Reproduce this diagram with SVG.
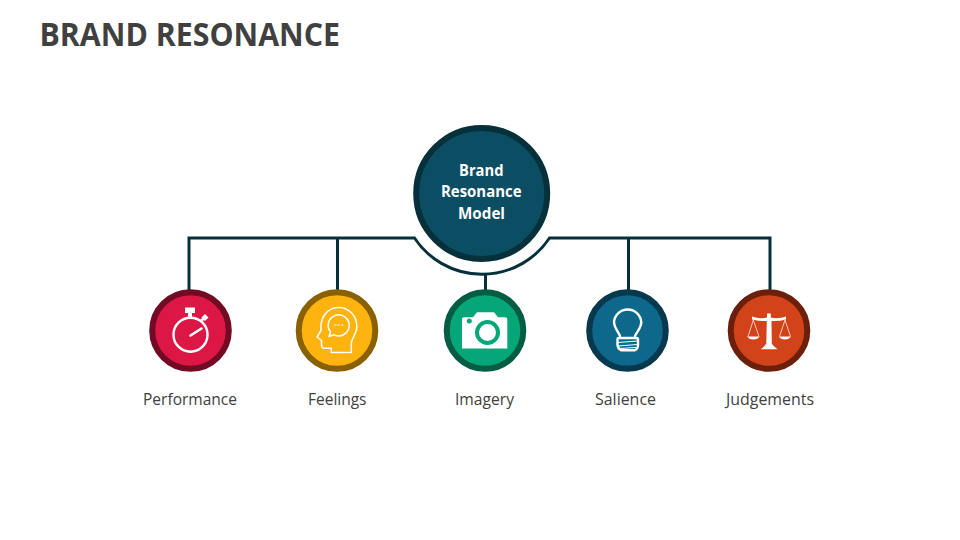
<svg xmlns="http://www.w3.org/2000/svg" width="960" height="540" viewBox="0 0 960 540">
<style>
text{font-family:"Open Sans","Noto Sans","Liberation Sans",sans-serif}
.t{font-size:32px;font-weight:700;fill:#404040}
.l{font-size:16px;fill:#404040}
.m{font-size:16px;font-weight:700;fill:#fff}
.c{fill:none;stroke:#06303a;stroke-width:3}
.w{fill:none;stroke:#fff;stroke-width:2.400;stroke-linecap:round;stroke-linejoin:round}
.thin{fill:none;stroke:#fff;stroke-width:1.500;stroke-linejoin:round}
.f{fill:#fff}
</style>
<rect width="960" height="540" fill="#fff"/>
<text class="t" x="39.500" y="45.500" textLength="300.500" lengthAdjust="spacingAndGlyphs">BRAND RESONANCE</text>
<g id="connectors" class="c">
<path d="M189 291V238H414.500A81 81 0 0 0 549.500 238H770V291"/>
<path d="M337.500 238V291"/>
<path d="M485.500 274V291"/>
<path d="M628.500 238V291"/>
</g>
<g id="brand-resonance-model">
<circle cx="481.700" cy="193.500" r="65.500" fill="#0b4d63" stroke="#06303a" stroke-width="6"/>
<text class="m" x="459" y="175.500" textLength="44.500" lengthAdjust="spacingAndGlyphs">Brand</text>
<text class="m" x="441" y="197" textLength="80.500" lengthAdjust="spacingAndGlyphs">Resonance</text>
<text class="m" x="458" y="218.500" textLength="47" lengthAdjust="spacingAndGlyphs">Model</text>
</g>
<g id="performance">
<circle cx="190.500" cy="330.500" r="38.300" fill="#dc1645" stroke="#720a24" stroke-width="6"/>
<circle cx="190.500" cy="334.700" r="17" class="w"/>
<rect x="185" y="307.500" width="10" height="5.500" class="f"/>
<rect x="188" y="312" width="4" height="5" class="f"/>
<path d="M201 321l3-3" stroke="#fff" stroke-width="2.500"/>
<path d="M201.500 317.500l3.500-3.500 3.500 3.500-3.500 3.500z" class="f"/>
<path d="M190.500 335.500l11-7" stroke="#fff" stroke-width="2.600" stroke-linecap="round"/>
<text class="l" x="143" y="404.500" textLength="94" lengthAdjust="spacingAndGlyphs">Performance</text>
</g>
<g id="feelings">
<circle cx="337" cy="330.500" r="38.300" fill="#ffb30f" stroke="#8a6100" stroke-width="6"/>
<path class="thin" d="M331.300 352.500V348.300H324.500Q321.500 348.300 321.500 345V340.500L317 337L321 330.500V325C322 314 330 307.500 338.500 307.500C349 307.500 356.800 316 356.800 326.500C356.800 334 351.300 338 351.300 344V352.500Z"/>
<path class="thin" d="M329 336.500L330.500 332A10.500 10.500 0 1 1 334 334.800Z"/>
<path d="M334 325h2.500M337.500 325h2.500M341 325h2.500" stroke="#fff" stroke-width="1"/>
<text class="l" x="308" y="404.500" textLength="58.500" lengthAdjust="spacingAndGlyphs">Feelings</text>
</g>
<g id="imagery">
<circle cx="485" cy="330.500" r="38.300" fill="#05a678" stroke="#045c42" stroke-width="6"/>
<path class="f" d="M462 319.500Q462 317.300 464 317.300H473L477 312.300H494L498 317.300H505Q507.300 317.300 507.300 319.500V348.500H462Z"/>
<circle cx="487.500" cy="332.500" r="10.500" fill="#fff" stroke="#05a678" stroke-width="4"/>
<circle cx="469.300" cy="321" r="2.500" fill="#05a678"/>
<text class="l" x="455" y="404.500" textLength="59" lengthAdjust="spacingAndGlyphs">Imagery</text>
</g>
<g id="salience">
<circle cx="627.500" cy="330.500" r="38.300" fill="#0d688b" stroke="#06394e" stroke-width="6"/>
<path class="w" d="M620 336C617.500 330 614 328 614 322A13.700 13.700 0 0 1 641.300 322C641.300 328 637.800 330 635 336"/>
<path class="w" d="M618.500 338H636.800Q638 338 638 340V345Q638 349 634.500 350.300H621.500Q618 349 617.500 345V340Q617.500 338 618.500 338Z"/>
<path d="M618 342.500L637.500 341M618 346L637.500 344.500M620 348.500L636 347.500" stroke="#fff" stroke-width="1" fill="none"/>
<text class="l" x="595" y="404.500" textLength="61" lengthAdjust="spacingAndGlyphs">Salience</text>
</g>
<g id="judgements">
<circle cx="769" cy="330.500" r="38.300" fill="#d2431a" stroke="#6c200c" stroke-width="6"/>
<path class="f" d="M752 316.500Q760 319.500 767 317.500V313.500H770.800V317.500Q778 319.500 786 316.500V319.500Q779 321.500 771.500 321L771.800 343.500Q773 346 777.500 349.300H760.500Q765 346 766.300 343.500L766.800 321Q760 321.500 752 319.500Z"/>
<path d="M753.300 320L748 336.500M753.300 320L759 336.500M785 320L779.500 336.500M785 320L790.500 336.500" stroke="#fff" stroke-width=".7" fill="none"/>
<path class="f" d="M747.300 336.500H759.500Q758 339.500 753.300 339.500Q749 339.500 747.300 336.500ZM779 336.500H791Q789 339.500 785 339.500Q780.500 339.500 779 336.500Z"/>
<text class="l" x="726" y="404.500" textLength="88" lengthAdjust="spacingAndGlyphs">Judgements</text>
</g>
</svg>
